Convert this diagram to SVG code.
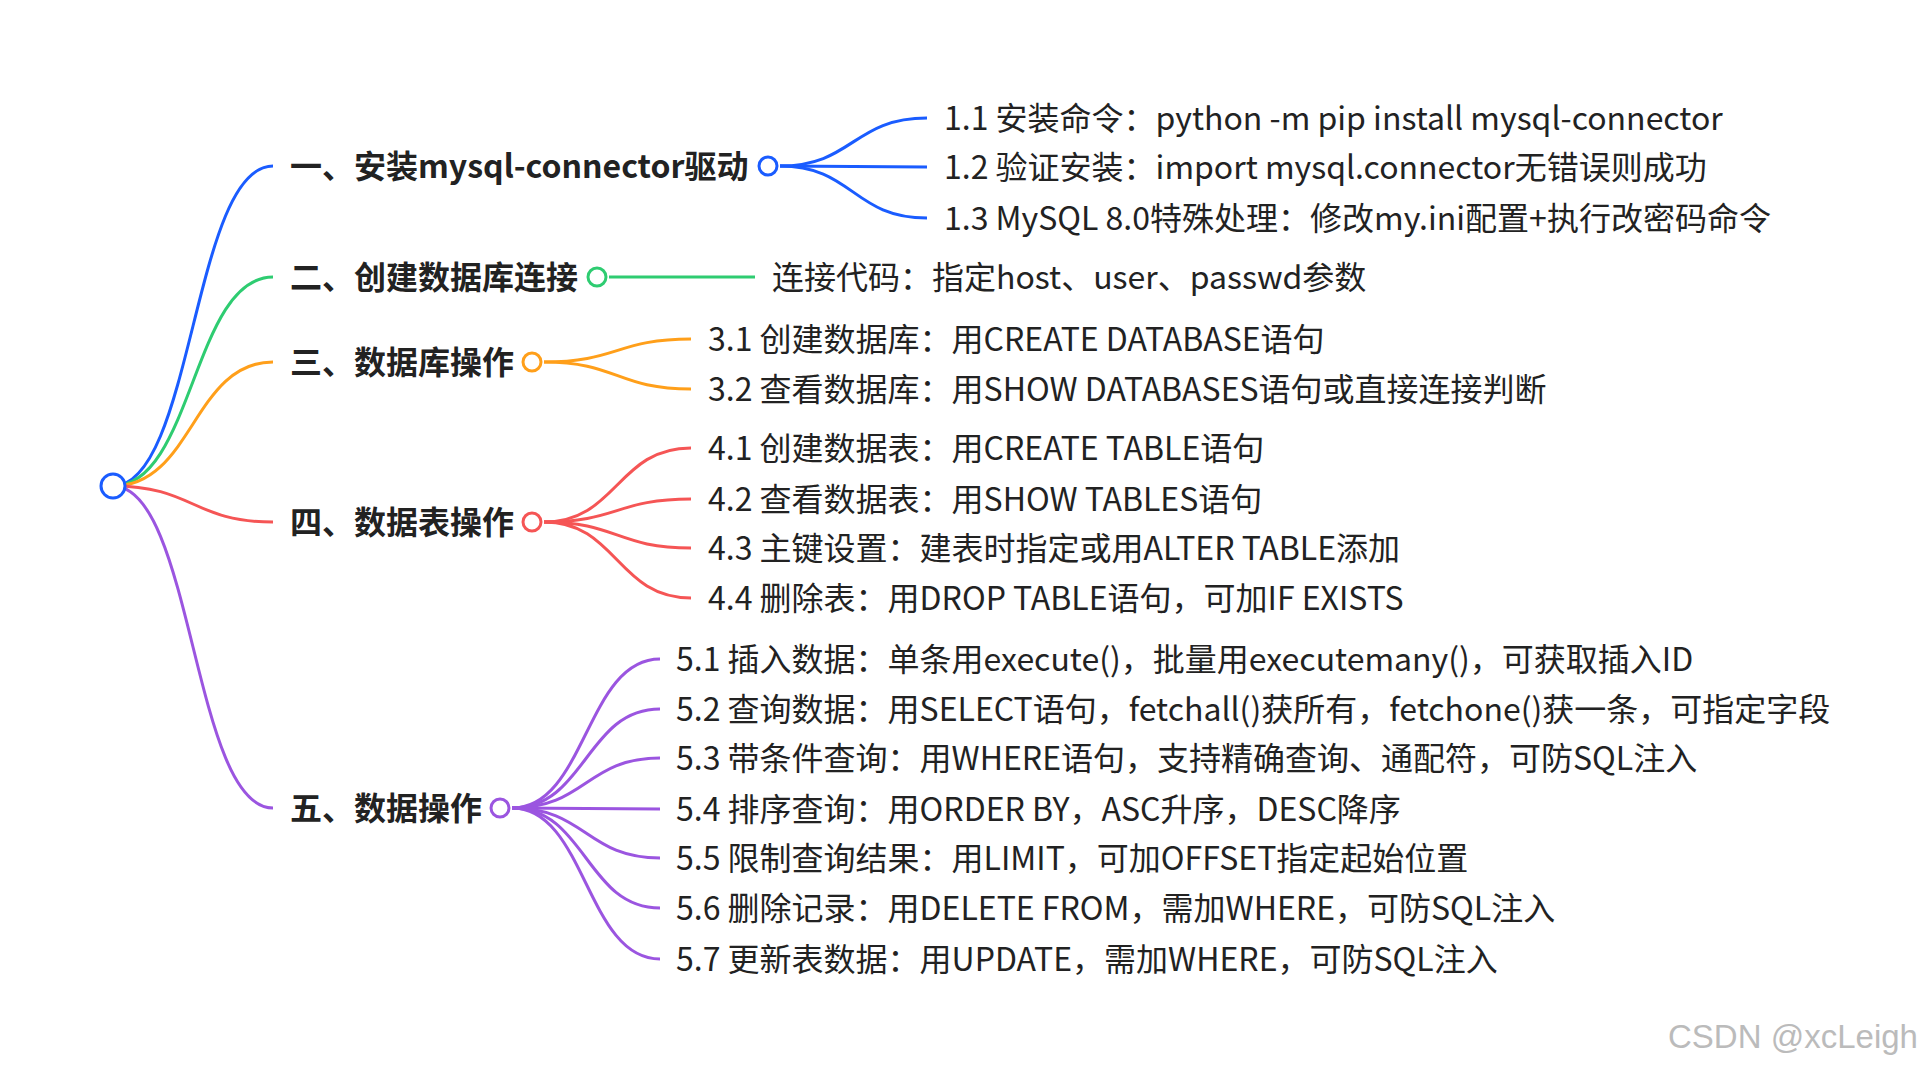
<svg xmlns="http://www.w3.org/2000/svg" width="1930" height="1068" viewBox="0 0 1930 1068">
<style>
text{font-family:"Noto Sans CJK SC","Noto Sans",sans-serif;fill:#222;dominant-baseline:central}
.h{font-size:32px;font-weight:bold}
.c{font-size:32px}
path,line{fill:none;stroke-width:3}
circle{fill:#fff;stroke-width:3}
.b{stroke:#1a5cff}.g{stroke:#2ecc71}.o{stroke:#ff9f1a}.r{stroke:#f55555}.p{stroke:#9b55e0}
</style>
<rect width="1930" height="1068" fill="#fff"/>
<g id="connectors">
<path class="b" d="M113,486 C193,486 193,166 273,166"/>
<path class="g" d="M113,486 C193,486 193,277 273,277"/>
<path class="o" d="M113,486 C193,486 193,362 273,362"/>
<path class="r" d="M113,486 C193,486 193,522 273,522"/>
<path class="p" d="M113,486 C193,486 193,808 273,808"/>
<path class="b" d="M780,166 C853,166 853,118 927,118"/>
<path class="b" d="M780,166 L927,167"/>
<path class="b" d="M780,166 C853,166 853,218 927,218"/>
<line class="g" x1="609" y1="277" x2="755" y2="277"/>
<path class="o" d="M544,362 C617,362 617,339 691,339"/>
<path class="o" d="M544,362 C617,362 617,389 691,389"/>
<path class="r" d="M544,522 C617,522 617,448 691,448"/>
<path class="r" d="M544,522 C617,522 617,499 691,499"/>
<path class="r" d="M544,522 C617,522 617,548 691,548"/>
<path class="r" d="M544,522 C617,522 617,598 691,598"/>
<path class="p" d="M512,808 C586,808 586,659 660,659"/>
<path class="p" d="M512,808 C586,808 586,709 660,709"/>
<path class="p" d="M512,808 C586,808 586,758 660,758"/>
<path class="p" d="M512,808 L660,809"/>
<path class="p" d="M512,808 C586,808 586,858 660,858"/>
<path class="p" d="M512,808 C586,808 586,908 660,908"/>
<path class="p" d="M512,808 C586,808 586,959 660,959"/>
</g>
<g id="root"><circle class="b" cx="113" cy="486" r="12"/></g>
<g id="n1"><text class="h" x="290" y="164">一、安装mysql-connector驱动</text><circle class="b" cx="768" cy="166" r="9"/></g>
<g id="n2"><text class="h" x="290" y="275">二、创建数据库连接</text><circle class="g" cx="597" cy="277" r="9"/></g>
<g id="n3"><text class="h" x="290" y="360">三、数据库操作</text><circle class="o" cx="532" cy="362" r="9"/></g>
<g id="n4"><text class="h" x="290" y="520">四、数据表操作</text><circle class="r" cx="532" cy="522" r="9"/></g>
<g id="n5"><text class="h" x="290" y="806">五、数据操作</text><circle class="p" cx="500" cy="808" r="9"/></g>
<g id="leaves">
<text class="c" x="944" y="116">1.1 安装命令：python -m pip install mysql-connector</text>
<text class="c" x="944" y="165">1.2 验证安装：import mysql.connector无错误则成功</text>
<text class="c" x="944" y="216">1.3 MySQL 8.0特殊处理：修改my.ini配置+执行改密码命令</text>
<text class="c" x="772" y="275">连接代码：指定host、user、passwd参数</text>
<text class="c" x="708" y="337">3.1 创建数据库：用CREATE DATABASE语句</text>
<text class="c" x="708" y="387">3.2 查看数据库：用SHOW DATABASES语句或直接连接判断</text>
<text class="c" x="708" y="446">4.1 创建数据表：用CREATE TABLE语句</text>
<text class="c" x="708" y="497">4.2 查看数据表：用SHOW TABLES语句</text>
<text class="c" x="708" y="546">4.3 主键设置：建表时指定或用ALTER TABLE添加</text>
<text class="c" x="708" y="596">4.4 删除表：用DROP TABLE语句，可加IF EXISTS</text>
<text class="c" x="676" y="657">5.1 插入数据：单条用execute()，批量用executemany()，可获取插入ID</text>
<text class="c" x="676" y="707">5.2 查询数据：用SELECT语句，fetchall()获所有，fetchone()获一条，可指定字段</text>
<text class="c" x="676" y="756">5.3 带条件查询：用WHERE语句，支持精确查询、通配符，可防SQL注入</text>
<text class="c" x="676" y="807">5.4 排序查询：用ORDER BY，ASC升序，DESC降序</text>
<text class="c" x="676" y="856">5.5 限制查询结果：用LIMIT，可加OFFSET指定起始位置</text>
<text class="c" x="676" y="906">5.6 删除记录：用DELETE FROM，需加WHERE，可防SQL注入</text>
<text class="c" x="676" y="957">5.7 更新表数据：用UPDATE，需加WHERE，可防SQL注入</text>
</g>
<text x="1668" y="1036" style="font-size:33px;fill:#bbb;font-family:'Liberation Sans',sans-serif">CSDN @xcLeigh</text>
</svg>
